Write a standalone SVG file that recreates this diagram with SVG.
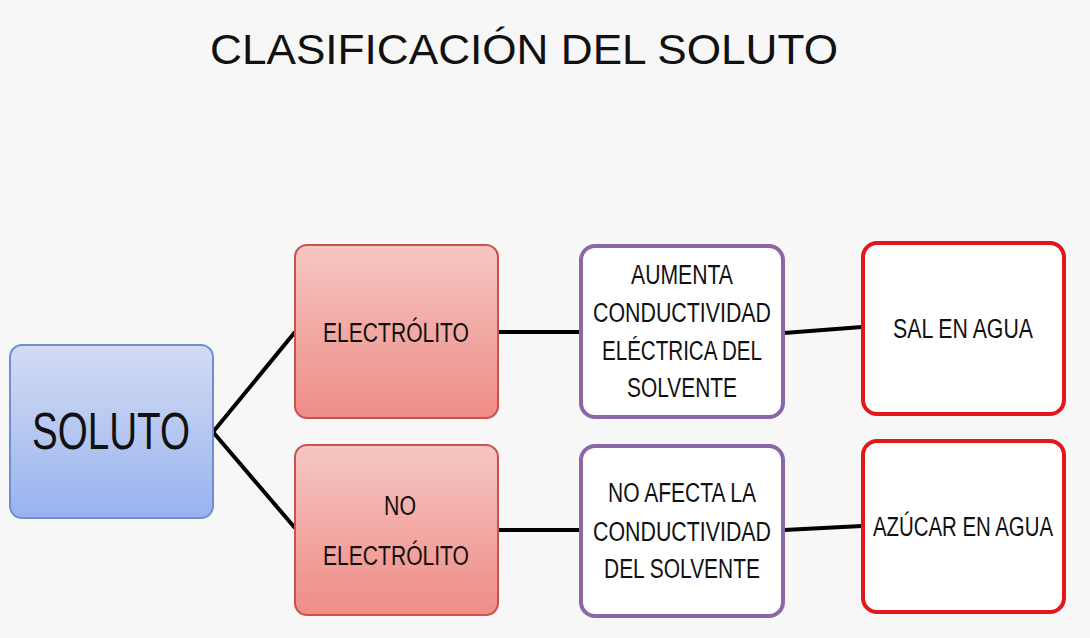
<svg xmlns="http://www.w3.org/2000/svg" width="1090" height="638" viewBox="0 0 1090 638">
<defs>
<linearGradient id="gb" x1="0" y1="0" x2="0" y2="1"><stop offset="0" stop-color="#d3dcf3"/><stop offset="1" stop-color="#98b3ef"/></linearGradient>
<linearGradient id="gr" x1="0" y1="0" x2="0" y2="1"><stop offset="0" stop-color="#f5c6c2"/><stop offset="1" stop-color="#ef8c86"/></linearGradient>
<style>
text{font-family:"Liberation Sans",Arial,sans-serif;fill:#111;text-anchor:middle}
.t{font-size:27px}
.blue{fill:url(#gb);stroke:#6f8fd0;stroke-width:2}
.pink{fill:url(#gr);stroke:#c9524c;stroke-width:2}
.purp{fill:#fff;stroke:#8a68a8;stroke-width:4}
.red{fill:#fff;stroke:#e3161c;stroke-width:4}
.c{stroke:#000;stroke-width:4;fill:none}
</style>
</defs>
<rect width="1090" height="638" fill="#f7f7f7"/>
<text x="524" y="64" font-size="42" textLength="628" lengthAdjust="spacingAndGlyphs" fill="#111">CLASIFICACIÓN DEL SOLUTO</text>
<g id="connectors">
<path class="c" d="M213 432 L295 332 M213 432 L295 528"/>
<path class="c" d="M498 332 L580 332 M498 530 L580 530"/>
<path class="c" d="M784 333 L862 327 M784 530 L862 526"/>
</g>
<g id="soluto"><rect class="blue" x="10" y="345" width="203" height="173" rx="12"/><text x="111" y="449" font-size="52" textLength="158" lengthAdjust="spacingAndGlyphs">SOLUTO</text></g>
<g id="electrolito"><rect class="pink" x="295" y="245" width="203" height="173" rx="12"/><text class="t" x="396" y="342" textLength="146" lengthAdjust="spacingAndGlyphs">ELECTRÓLITO</text></g>
<g id="noelectrolito"><rect class="pink" x="295" y="445" width="203" height="170" rx="12"/><text class="t" x="400" y="515" textLength="32" lengthAdjust="spacingAndGlyphs">NO</text><text class="t" x="396" y="565" textLength="146" lengthAdjust="spacingAndGlyphs">ELECTRÓLITO</text></g>
<g id="aumenta"><rect class="purp" x="581" y="246" width="202" height="171" rx="14"/>
<text class="t" x="682" y="284" textLength="102" lengthAdjust="spacingAndGlyphs">AUMENTA</text>
<text class="t" x="682" y="322" textLength="178" lengthAdjust="spacingAndGlyphs">CONDUCTIVIDAD</text>
<text class="t" x="682" y="360" textLength="160" lengthAdjust="spacingAndGlyphs">ELÉCTRICA DEL</text>
<text class="t" x="682" y="397" textLength="110" lengthAdjust="spacingAndGlyphs">SOLVENTE</text></g>
<g id="noafecta"><rect class="purp" x="581" y="446" width="202" height="170" rx="14"/>
<text class="t" x="682" y="502" textLength="148" lengthAdjust="spacingAndGlyphs">NO AFECTA LA</text>
<text class="t" x="682" y="541" textLength="178" lengthAdjust="spacingAndGlyphs">CONDUCTIVIDAD</text>
<text class="t" x="682" y="578" textLength="156" lengthAdjust="spacingAndGlyphs">DEL SOLVENTE</text></g>
<g id="sal"><rect class="red" x="863" y="243" width="201" height="171" rx="14"/><text class="t" x="963" y="338" textLength="140" lengthAdjust="spacingAndGlyphs">SAL EN AGUA</text></g>
<g id="azucar"><rect class="red" x="863" y="441" width="201" height="171" rx="14"/><text class="t" x="963" y="536" textLength="180" lengthAdjust="spacingAndGlyphs">AZÚCAR EN AGUA</text></g>
</svg>
